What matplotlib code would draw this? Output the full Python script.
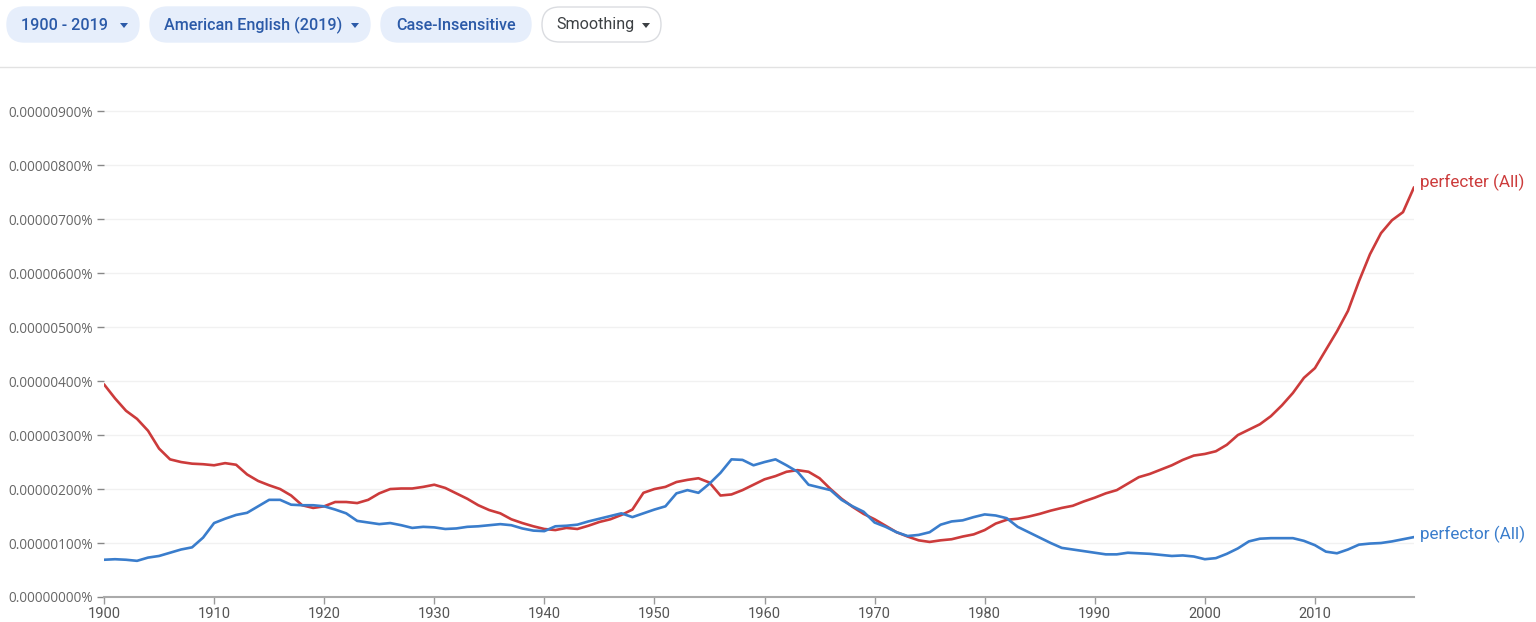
import numpy as np
import matplotlib
matplotlib.use("Agg")
import matplotlib.pyplot as plt
from matplotlib.patches import FancyBboxPatch

# values in units of 0.000001 %
years = np.arange(1900, 2020)

perfecter = [
    3.94, 3.68, 3.45, 3.30, 3.08, 2.75, 2.55, 2.50, 2.47, 2.46,
    2.44, 2.48, 2.45, 2.27, 2.15, 2.07, 2.00, 1.88, 1.70, 1.65,
    1.68, 1.76, 1.76, 1.74, 1.80, 1.92, 2.00, 2.01, 2.01, 2.04,
    2.08, 2.02, 1.92, 1.82, 1.70, 1.61, 1.55, 1.44, 1.37, 1.31,
    1.26, 1.24, 1.28, 1.26, 1.32, 1.39, 1.44, 1.52, 1.62, 1.93,
    2.00, 2.04, 2.13, 2.17, 2.20, 2.12, 1.88, 1.90, 1.98, 2.08,
    2.18, 2.24, 2.32, 2.35, 2.32, 2.20, 2.00, 1.82, 1.67, 1.54,
    1.44, 1.32, 1.20, 1.12, 1.05, 1.02, 1.05, 1.07, 1.12, 1.16,
    1.24, 1.36, 1.43, 1.45, 1.49, 1.54, 1.60, 1.65, 1.69, 1.77,
    1.84, 1.92, 1.98, 2.10, 2.22, 2.28, 2.36, 2.44, 2.54, 2.62,
    2.65, 2.70, 2.82, 3.00, 3.10, 3.20, 3.35, 3.55, 3.78, 4.06,
    4.24, 4.58, 4.92, 5.30, 5.85, 6.35, 6.74, 6.98, 7.13, 7.59,
]

perfector = [
    0.69, 0.70, 0.69, 0.67, 0.73, 0.76, 0.82, 0.88, 0.92, 1.10,
    1.37, 1.45, 1.52, 1.56, 1.68, 1.80, 1.80, 1.71, 1.70, 1.70,
    1.68, 1.62, 1.55, 1.41, 1.38, 1.35, 1.37, 1.33, 1.28, 1.30,
    1.29, 1.26, 1.27, 1.30, 1.31, 1.33, 1.35, 1.33, 1.27, 1.23,
    1.22, 1.31, 1.32, 1.34, 1.40, 1.45, 1.50, 1.55, 1.48, 1.55,
    1.62, 1.68, 1.92, 1.98, 1.93, 2.10, 2.30, 2.55, 2.54, 2.44,
    2.50, 2.55, 2.44, 2.32, 2.08, 2.03, 1.98, 1.80, 1.68, 1.58,
    1.38, 1.30, 1.20, 1.13, 1.15, 1.20, 1.34, 1.40, 1.42, 1.48,
    1.53, 1.51, 1.46, 1.30, 1.20, 1.10, 1.00, 0.91, 0.88, 0.85,
    0.82, 0.79, 0.79, 0.82, 0.81, 0.80, 0.78, 0.76, 0.77, 0.75,
    0.70, 0.72, 0.80, 0.90, 1.03, 1.08, 1.09, 1.09, 1.09, 1.04,
    0.96, 0.84, 0.81, 0.88, 0.97, 0.99, 1.00, 1.03, 1.07, 1.11,
]

ytick_vals = [0, 1, 2, 3, 4, 5, 6, 7, 8, 9]
ytick_labels = ["0.00000000%", "0.00000100%", "0.00000200%", "0.00000300%",
                "0.00000400%", "0.00000500%", "0.00000600%", "0.00000700%",
                "0.00000800%", "0.00000900%"]
xtick_vals = [1900, 1910, 1920, 1930, 1940, 1950, 1960, 1970, 1980, 1990, 2000, 2010]

buttons = ["1900 - 2019", "American English (2019)", "Case-Insensitive", "Smoothing"]
button_dropdown = [True, True, False, True]

RED = "#cc3b3b"
BLUE = "#3a7dcc"
W, H = 1536, 622

plt.rcParams['font.family'] = ['Roboto', 'DejaVu Sans']

fig = plt.figure(figsize=(W / 100, H / 100), dpi=100)
fig.patch.set_facecolor("white")

# main chart, positioned in pixels
x0, x1 = 104, 1414
ytop, ybot = 95, 597
ax = fig.add_axes([x0 / W, 1 - ybot / H, (x1 - x0) / W, (ybot - ytop) / H])
ax.plot(years, perfecter, color=RED, lw=1.9, solid_capstyle="round", solid_joinstyle="round")
ax.plot(years, perfector, color=BLUE, lw=1.9, solid_capstyle="round", solid_joinstyle="round")
ax.set_xlim(1900, 2019)
ax.set_ylim(0, 9.3)

ax.set_yticks(ytick_vals)
ax.set_yticklabels(ytick_labels, fontfamily="Open Sans")
ax.set_xticks(xtick_vals)
ax.grid(axis="y", color="#f1f1f1", lw=1)
ax.set_axisbelow(True)
for s in ["top", "right", "left"]:
    ax.spines[s].set_visible(False)
ax.spines["bottom"].set_color("#aaaaaa")
ax.spines["bottom"].set_linewidth(1.5)
ax.tick_params(axis="y", length=5, width=1, color="#888888", pad=3,
               labelsize=9.8, labelcolor="#666666")
ax.tick_params(axis="x", length=5, width=1, color="#999999", pad=2,
               labelsize=10.5, labelcolor="#555555")

ax.text(2019.5, perfecter[-1] + 0.1, "perfecter (All)", color=RED,
        fontsize=12.3, va="center", ha="left", clip_on=False)
ax.text(2019.5, perfector[-1] + 0.05, "perfector (All)", color=BLUE,
        fontsize=12.3, va="center", ha="left", clip_on=False)

# top toolbar drawn in pixel coordinates
top = fig.add_axes([0, 0, 1, 1], zorder=-1)
top.set_xlim(0, W)
top.set_ylim(H, 0)
top.axis("off")
top.axhline(67, color="#e2e2e2", lw=1)

bx = [7, 150, 381, 542]
bw = [132, 220, 150, 119]
for i, label in enumerate(buttons):
    filled = i < 3
    patch = FancyBboxPatch((bx[i], 7), bw[i], 35,
                           boxstyle="round,pad=0,rounding_size=17.5",
                           facecolor="#e6eefb" if filled else "white",
                           edgecolor="#e6eefb" if filled else "#dadce0",
                           lw=1)
    top.add_patch(patch)
    txt_color = "#2b5aa8" if filled else "#3c4043"
    tx = bx[i] + 14
    if button_dropdown[i]:
        top.text(tx, 25, label, color=txt_color, fontsize=11.6,
                 va="center", ha="left", fontweight="medium" if filled else "normal")
        ax_tip = bx[i] + bw[i] - 15
        top.fill([ax_tip - 4, ax_tip + 4, ax_tip], [23, 23, 28],
                 color=txt_color, lw=0)
    else:
        top.text(bx[i] + bw[i] / 2, 25, label, color=txt_color, fontsize=11.6,
                 va="center", ha="center", fontweight="medium")

fig.savefig("out.png", dpi=100, facecolor="white")
